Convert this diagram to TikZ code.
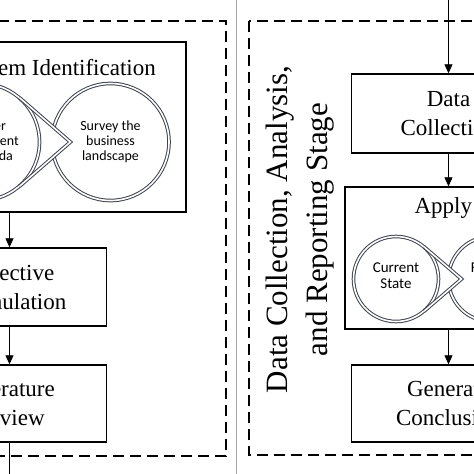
\documentclass[tikz,border=0pt]{standalone}
\usepackage{fontspec}
\setmainfont{Liberation Serif}
\newfontfamily\circfont{Carlito}
\usetikzlibrary{arrows.meta}
\definecolor{corAnel}{RGB}{62,67,78}
\definecolor{corDivisa}{RGB}{165,165,165}

\begin{document}
\begin{tikzpicture}[x=1pt,y=-1pt,
  caixa/.style={draw, line width=1.4pt, fill=white, align=center, inner sep=0pt,
    font=\fontsize{23}{29}\selectfont},
  titulo/.style={anchor=base, font=\fontsize{23}{29}\selectfont},
  anel/.style={circle, draw=corAnel, double=white, double distance=1.6pt, line width=1pt,
    fill=white, align=center, inner sep=0pt},
  borda/.style={draw=corAnel, double=white, double distance=1.6pt, line width=1pt},
  seta/.style={-{Triangle[length=9pt,width=8pt]}, line width=0.8pt},
  tracejado/.style={dash pattern=on 11pt off 6pt, line width=1.4pt}]
  \useasboundingbox (0,0) rectangle (474,474);
  \clip (0,0) rectangle (474,474);
  % Divisória e painéis
  \draw[corDivisa, line width=0.8pt] (236.5,0) -- (236.5,474);
  \draw[tracejado] (-200,21) rectangle (226,456);
  \draw[tracejado] (249,21) rectangle (700,455);
  % Painel esquerdo
  \node[caixa, minimum width=276pt, minimum height=170pt] (prob) at (48,127) {};
  \node[titulo] (probtit) at (52,75) {Problem Identification};
  \node[anel, minimum size=117pt, font=\circfont\fontsize{14}{15}\selectfont]
    (survey) at (110.5,142) {Survey the\\business\\landscape};
  \node[circle, minimum size=117pt] (mgmt) at (-19,142) {};
  \coordinate (pontaA) at (70.4,142);
  \fill[white] (mgmt.49) -- (pontaA) -- (mgmt.-49) -- cycle;
  \node[anel, minimum size=117pt, font=\circfont\fontsize{14}{15}\selectfont]
    (mgmtanel) at (mgmt) {Consider\\management\\the agenda};
  \draw[borda] (mgmt.49) -- (pontaA) -- (mgmt.-49);
  \node[caixa, minimum width=194pt, minimum height=78pt] (obj) at (9.5,287)
    {Objective\\Formulation};
  \node[caixa, minimum width=194pt, minimum height=77pt] (lit) at (9.5,403.5)
    {Literature\\Review};
  % Painel direito
  \node[rotate=90, align=center, font=\fontsize{31}{40}\selectfont] (etapa) at (300,229.5)
    {Data Collection, Analysis,\\and Reporting Stage};
  \node[caixa, minimum width=194pt, minimum height=79pt] (dados) at (448.5,113.5)
    {Data\\Collection};
  \node[caixa, minimum width=207pt, minimum height=142pt] (vsm) at (448.5,258) {};
  \node[titulo, anchor=base west] (vsmtit) at (411,213.5) {Apply VSM};
  \node[anel, minimum size=85pt] (futuro) at (491,279) {};
  \node[align=center, font=\circfont\fontsize{15}{16.5}\selectfont]
    (futurotxt) at (491,275.5) {Future\\State};
  \node[circle, minimum size=85pt] (atual) at (396,279) {};
  \coordinate (pontaB) at (461.5,279);
  \fill[white] (atual.49) -- (pontaB) -- (atual.-49) -- cycle;
  \node[anel, minimum size=85pt] (atualanel) at (atual) {};
  \node[align=center, font=\circfont\fontsize{15}{16.5}\selectfont]
    (atualtxt) at (396,275.5) {Current\\State};
  \draw[borda] (atual.49) -- (pontaB) -- (atual.-49);
  \node[caixa, minimum width=194pt, minimum height=77pt] (concl) at (448.5,403.5)
    {Generate\\Conclusion};
  % Setas
  \coordinate (entrada) at (448.5,0);
  \coordinate (saida) at (9.5,474);
  \draw[seta] (entrada) -- (dados);
  \foreach \a/\b in {dados/vsm, vsm/concl, obj/lit}
    \draw[seta] (\a) -- (\b);
  \draw[seta] (prob.south -| obj) -- (obj);
  \draw[line width=0.8pt] (lit) -- (saida);
\end{tikzpicture}
\end{document}
